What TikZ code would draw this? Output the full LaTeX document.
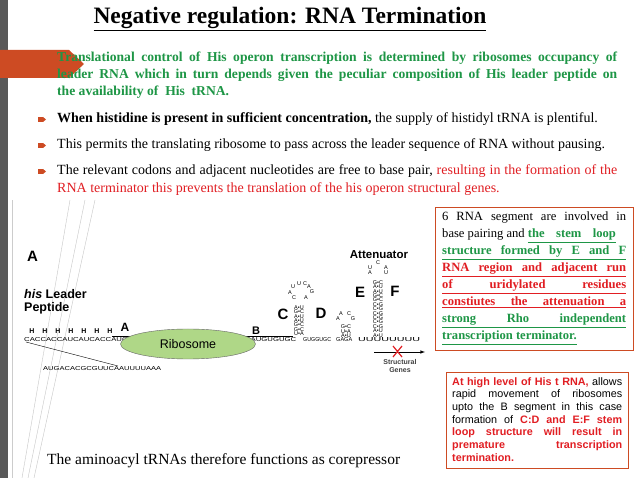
\documentclass[tikz,border=0pt]{standalone}
\usepackage{fontspec}
\setmainfont{Liberation Serif}
\newfontfamily\sansf{Liberation Sans}
\usetikzlibrary{shapes.geometric}
\newcommand{\ulx}[3]{\textcolor{#1}{\bfseries\underline{\makebox[#2][s]{#3}}}}
\newcommand{\sq}[2]{\resizebox{#1}{4pt}{#2}}
\begin{document}
\begin{tikzpicture}[x=1pt,y=-1pt,
  body/.style={anchor=north west,inner sep=0pt,align=justify,font=\fontsize{13.6}{17.5}\selectfont},
  stem/.style={font=\sansf\fontsize{5.5}{5.5}\selectfont,inner sep=0pt},
  lbl/.style={font=\sansf\bfseries\fontsize{15}{15}\selectfont,inner sep=0pt},
  seq/.style={font=\sansf\fontsize{6}{6}\selectfont,inner sep=0pt,anchor=west}]
\definecolor{gr}{RGB}{30,150,70}
\definecolor{rd}{RGB}{225,30,35}
\definecolor{org}{RGB}{205,75,35}
\definecolor{ribo}{RGB}{175,215,135}
\useasboundingbox (0,0) rectangle (638,478);
\fill[white] (0,0) rectangle (638,478);
\fill[gray!70!black] (0,0) rectangle (8,478);
\foreach \a/\b in {22/70,28/85,34/95}{\draw[gray!45,line width=0.4] (\a,478) -- (\b,200);}
\draw[gray!40,line width=0.4] (12,478) -- (12,200);
\fill[org] (0,50) -- (69,50) -- (84,64) -- (69,78) -- (0,78) -- cycle;
\node[font=\bfseries\fontsize{23.5}{23.5}\selectfont,inner sep=0pt] (title) at (290,19) {\underline{Negative regulation: RNA Termination}};
\node[anchor=north west,inner sep=0pt,align=left,text=gr,font=\bfseries\fontsize{13.6}{17}\selectfont] (p1) at (57,52) {\makebox[560pt][s]{Translational control of His operon transcription is determined by ribosomes occupancy of}\\
\makebox[560pt][s]{leader RNA which in turn depends given the peculiar composition of His leader peptide on}\\
the availability of \ His \ tRNA.};
\foreach \y in {120,146,172}{\fill[org] (38,\y-3) rectangle (43,\y+2); \fill[org] (43,\y-3) -- (46,\y-0.5) -- (43,\y+2) -- cycle;}
\node[body,text width=570,font=\fontsize{14}{17.5}\selectfont] (t1) at (57,112) {\textbf{When histidine is present in sufficient concentration,} the supply of histidyl tRNA is plentiful.};
\node[body,text width=570,font=\fontsize{14}{17.5}\selectfont] (t2) at (57,138) {This permits the translating ribosome to pass across the leader sequence of RNA without pausing.};
\node[body,text width=560,font=\fontsize{14}{18.5}\selectfont] (t3) at (57,164) {The relevant codons and adjacent nucleotides are free to base pair, \textcolor{rd}{resulting in the formation of the RNA terminator this prevents the translation of the his operon structural genes.}};
% box 1
\node[draw=org,line width=1.2,anchor=north west,minimum width=198,minimum height=143,inner sep=0pt] (box1) at (435,207) {};
\node[anchor=north west,inner sep=0pt,align=left,font=\fontsize{12.6}{17}\selectfont] (bt1) at (442,212) {\makebox[184pt][s]{6 RNA segment are involved in}\\
base pairing and \ulx{gr}{88pt}{the stem loop}\\
\ulx{gr}{184pt}{structure formed by E and F}\\
\ulx{rd}{184pt}{RNA region and adjacent run}\\
\ulx{rd}{184pt}{of uridylated residues}\\
\ulx{rd}{184pt}{constiutes the attenuation a}\\
\ulx{gr}{184pt}{strong Rho independent}\\
\textcolor{gr}{\bfseries\underline{transcription terminator.}}};
% box 2
\node[draw=org,line width=1.2,anchor=north west,minimum width=182,minimum height=96,inner sep=0pt] (box2) at (446,372) {};
\node[anchor=north west,inner sep=0pt,align=left,font=\sansf\fontsize{10.8}{12.7}\selectfont] (bt2) at (452,377) {\makebox[170pt][s]{\textcolor{rd}{\textbf{At high level of His t RNA,}} allows}\\
\makebox[170pt][s]{rapid movement of ribosomes}\\
\makebox[170pt][s]{upto the B segment in this case}\\
\makebox[170pt][s]{formation of \textcolor{rd}{\textbf{C:D and E:F stem}}}\\
\textcolor{rd}{\bfseries\makebox[170pt][s]{loop structure will result in}}\\
\textcolor{rd}{\bfseries\makebox[170pt][s]{premature transcription}}\\
\textcolor{rd}{\bfseries termination.}};
\node[anchor=west,inner sep=0pt,font=\fontsize{15.5}{15.5}\selectfont] (bottom) at (47,461) {The aminoacyl tRNAs therefore functions as corepressor};
% diagram
\node[lbl,anchor=west] (A) at (27,256) {A};
\node[anchor=north west,inner sep=0pt,align=left,font=\sansf\bfseries\fontsize{12.5}{13}\selectfont] (lead) at (24,289) {\textit{his} Leader\\Peptide};
\foreach \i in {0,...,6}{\node[font=\sansf\bfseries\fontsize{7}{7}\selectfont,inner sep=0pt] (h\i) at (32+\i*13,331) {H};}
\node[lbl,font=\sansf\bfseries\fontsize{12}{12}\selectfont] (Aseg) at (125,327) {A};
\node[lbl,font=\sansf\bfseries\fontsize{11}{11}\selectfont] (B) at (256,331) {B};
\draw[line width=0.4] (112,336.5) -- (293,336.5);
\node[seq] (s1) at (24,340) {\sq{272pt}{CACCACCAUCAUCACCAUCAUCCUGACUAGUCUUUCAGGCGAUGUGUGC}};
\node[seq] (s2) at (303,340) {\sq{28pt}{GUGGUGC}};
\node[seq] (s3) at (336,340) {\sq{16pt}{GAGA}};
\node[seq] (s4) at (358,340) {\sq{62pt}{UUUUUUUU}};
\node[draw=black!60,fill=ribo,ellipse,minimum width=135,minimum height=30,inner sep=0pt,font=\sansf\fontsize{12.5}{12.5}\selectfont] (ribo) at (188,344) {Ribosome};
\node[seq] (s5) at (43,369) {\sq{118pt}{AUGACACGCGUUCAAUUUUAAA}};
\coordinate (c1) at (26,342);
\coordinate (c2) at (118,366);
\draw[line width=0.4] (c1) -- (c2);
% C:D stem
\foreach \p [count=\k] in {A•U,G•C,A•U,A•U,G•C,G•C,U•A}{\node[stem] (cd\k) at (299,303+\k*4.4) {\p};}
\node[stem] at (294,298) {C};\node[stem] at (290,293) {A};\node[stem] at (293,287) {U};\node[stem] at (299,284) {U};\node[stem] at (305,284) {C};\node[stem] at (309,287) {A};\node[stem] at (312,292) {G};\node[stem] at (306,298) {A};
\node[lbl] (C) at (283,314) {C};
\node[lbl] (D) at (321,313) {D};
% small stem
\foreach \p [count=\k] in {G•C,U•A,A•U}{\node[stem] (sm\k) at (346,322.5+\k*4.4) {\p};}
\node[stem] at (338,319) {A};\node[stem] at (341,314) {A};\node[stem] at (349,314) {C};\node[stem] at (353,319) {G};
% E:F stem
\foreach \p [count=\k] in {G•C,A•U,A•U,G•C,G•C,C•G,C•G,C•G,C•G,C•G,C•G,A•U,A•U}{\node[stem] (ef\k) at (378,278+\k*4.4) {\p};}
\node[stem] at (370,273) {A};\node[stem] at (370,268) {U};\node[stem] at (378,263) {C};\node[stem] at (386,268) {A};\node[stem] at (386,273) {U};
\node[lbl] (E) at (360,292) {E};
\node[lbl] (F) at (395,291) {F};
\node[font=\sansf\bfseries\fontsize{11.5}{11.5}\selectfont,inner sep=0pt] (att) at (379,255) {Attenuator};
\coordinate (g1) at (374,352);
\coordinate (g2) at (425,352);
\draw[line width=0.6,-latex] (g1) -- (g2);
\draw[rd,line width=1.2] (393,346) -- (402,357) (402,346) -- (393,357);
\node[align=center,inner sep=0pt,font=\sansf\bfseries\fontsize{7}{8}\selectfont,text=black!75] (sg) at (400,366) {Structural\\Genes};
\end{tikzpicture}
\end{document}
